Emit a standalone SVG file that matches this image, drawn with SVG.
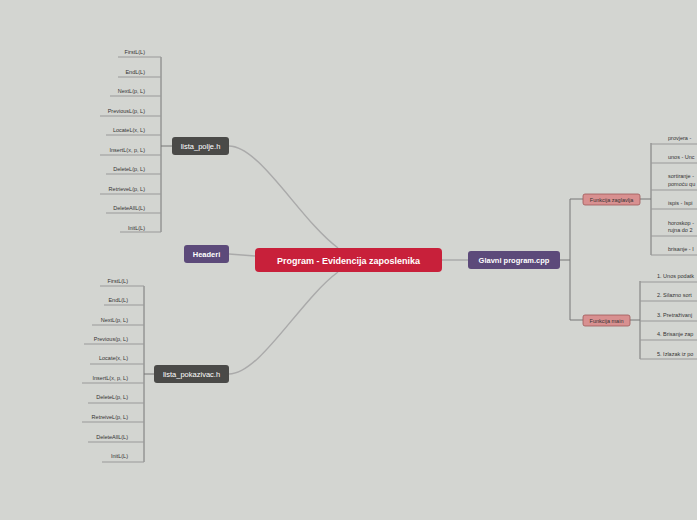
<svg xmlns="http://www.w3.org/2000/svg" width="697" height="520" viewBox="0 0 697 520">
<style>
text{font-family:"Liberation Sans",Arial,sans-serif}
.s{font-size:5.5px;fill:#333}
.r{font-size:5.5px;fill:#333}
.ln{stroke:#777;stroke-width:1;fill:none}
.ul{stroke:#999;stroke-width:1.2;fill:none}
.cv{stroke:#aaa;stroke-width:1.5;fill:none}
.nl{font-size:7.5px;fill:#fff;text-anchor:middle}
</style>
<rect width="697" height="520" fill="#d3d5d1"/>
<g id="connectors">
<path class="cv" d="M338 248 C300 220 260 146 229 146"/>
<path class="cv" d="M338 272 C300 300 260 374 229 374"/>
<path class="cv" d="M255 256 L229 254"/>
<path class="cv" d="M442 260 L468 260"/>
<path class="ln" d="M560 260 H570 M570 199 V320 M570 199 H583 M570 320 H583"/>
<path class="ln" d="M640 199 H651 M651 143 V255 M630 320 H640 M640 281 V359"/>
<path class="ul" d="M651 144H697M651 163H697M651 190H697M651 209H697M651 236H697M651 255H697"/>
<path class="ul" d="M640 282H697M640 301H697M640 321H697M640 340H697M640 359H697"/>
<path class="ln" d="M161 57 V232 M161 146 H172 M144 286 V462 M144 374 H154"/>
<path class="ul" d="M118 57H161M118 77H161M110 96H161M100 116H161M106 135H161M100 155H161M106 174H161M100 194H161M106 213H161M120 232H161"/>
<path class="ul" d="M100 286H144M104 305H144M92 325H144M84 344H144M90 364H144M82 383H144M88 403H144M82 422H144M88 442H144M102 462H144"/>
</g>
<g id="lista_polje">
<text class="s" x="145" y="54" text-anchor="end">FirstL(L)</text>
<text class="s" x="145" y="74" text-anchor="end">EndL(L)</text>
<text class="s" x="145" y="93" text-anchor="end">NextL(p, L)</text>
<text class="s" x="145" y="113" text-anchor="end">PreviousL(p, L)</text>
<text class="s" x="145" y="132" text-anchor="end">LocateL(x, L)</text>
<text class="s" x="145" y="152" text-anchor="end">InsertL(x, p, L)</text>
<text class="s" x="145" y="171" text-anchor="end">DeleteL(p, L)</text>
<text class="s" x="145" y="191" text-anchor="end">RetrieveL(p, L)</text>
<text class="s" x="145" y="210" text-anchor="end">DeleteAllL(L)</text>
<text class="s" x="145" y="230" text-anchor="end">InitL(L)</text>
<rect x="172" y="137" width="57" height="18" rx="3" fill="#4a4a48"/>
<text class="nl" x="200.5" y="149">lista_polje.h</text>
</g>
<g id="lista_pokazivac">
<text class="s" x="128" y="283" text-anchor="end">FirstL(L)</text>
<text class="s" x="128" y="302" text-anchor="end">EndL(L)</text>
<text class="s" x="128" y="322" text-anchor="end">NextL(p, L)</text>
<text class="s" x="128" y="341" text-anchor="end">Previous(p, L)</text>
<text class="s" x="128" y="360" text-anchor="end">Locate(x, L)</text>
<text class="s" x="128" y="380" text-anchor="end">InsertL(x, p, L)</text>
<text class="s" x="128" y="399" text-anchor="end">DeleteL(p, L)</text>
<text class="s" x="128" y="419" text-anchor="end">RetreiveL(p, L)</text>
<text class="s" x="128" y="439" text-anchor="end">DeleteAllL(L)</text>
<text class="s" x="128" y="458" text-anchor="end">InitL(L)</text>
<rect x="154" y="365" width="75" height="18" rx="3" fill="#4a4a48"/>
<text class="nl" x="191.5" y="377">lista_pokazivac.h</text>
</g>
<g id="headeri">
<rect x="184" y="245" width="45" height="18" rx="3" fill="#5c4a7a"/>
<text class="nl" x="206.5" y="257" font-weight="bold">Headeri</text>
</g>
<g id="center">
<rect x="255" y="248" width="187" height="24" rx="4" fill="#c8203a"/>
<text x="348.5" y="263.5" font-size="9px" fill="#fff" font-weight="bold" text-anchor="middle">Program - Evidencija zaposlenika</text>
</g>
<g id="glavni">
<rect x="468" y="251" width="92" height="18" rx="3" fill="#5c4a7a"/>
<text class="nl" x="514" y="263" font-weight="bold">Glavni program.cpp</text>
</g>
<g id="zaglavlja">
<rect x="583" y="194" width="57" height="11" rx="2" fill="#d89090" stroke="#a05858" stroke-width="0.8"/>
<text x="611.5" y="201.8" font-size="5.5px" fill="#333" text-anchor="middle">Funkcija zaglavlja</text>
<text class="r" x="668" y="140">provjera - </text>
<text class="r" x="668" y="159">unos - Unc</text>
<text class="r" x="668" y="178">sortiranje - </text>
<text class="r" x="668" y="186">pomoću qu</text>
<text class="r" x="668" y="205">ispis - Ispi</text>
<text class="r" x="668" y="225">horoskop - </text>
<text class="r" x="668" y="232">rujna do 2</text>
<text class="r" x="668" y="251">brisanje - I</text>
</g>
<g id="main">
<rect x="583" y="315" width="47" height="11" rx="2" fill="#d89090" stroke="#a05858" stroke-width="0.8"/>
<text x="606.5" y="322.8" font-size="5.5px" fill="#333" text-anchor="middle">Funkcija main</text>
<text class="r" x="657" y="278">1. Unos podatk</text>
<text class="r" x="657" y="297">2. Silazno sort</text>
<text class="r" x="657" y="317">3. Pretraživanj</text>
<text class="r" x="657" y="336">4. Brisanje zap</text>
<text class="r" x="657" y="356">5. Izlazak iz po</text>
</g>
</svg>
